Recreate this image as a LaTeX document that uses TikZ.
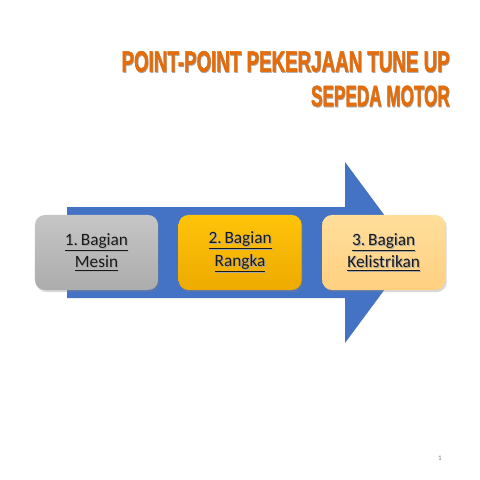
\documentclass[tikz,border=0pt]{standalone}
\usepackage{fontspec, graphicx}
\setmainfont{Carlito}
\newfontfamily\titlefont{Liberation Sans}[FakeBold=1.6]
\usetikzlibrary{positioning, shadows}
\definecolor{arrowblue}{RGB}{68,114,196}
\definecolor{titleorange}{RGB}{228,108,10}
\newcommand{\shtext}[1]{\rlap{\kern0.7pt\raisebox{-0.7pt}{\color{black!35}#1}}#1}
\tikzset{
    part/.style={rectangle, rounded corners=7pt, minimum width=3.075cm, minimum height=1.875cm, align=center, text=black!90, font=\fontsize{12.3}{16.3}\selectfont, drop shadow={opacity=0.3, shadow xshift=1pt, shadow yshift=-1.5pt}},
    title/.style={text=titleorange, inner sep=0pt, font=\titlefont\bfseries\fontsize{21}{24}\selectfont},
    bigarrow/.style={fill=arrowblue, draw=none}
}

\begin{document}
\begin{tikzpicture}[x=0.025cm, y=-0.025cm]

    \useasboundingbox (0,0) rectangle (480,480);

    % Arrow
    \fill [bigarrow] (67,207) -- (345,207) -- (345,162) -- (412,252.5) -- (345,343) -- (345,298) -- (67,298) -- cycle;

    % Nodes
    \node (mesin) [part, top color=gray!45, bottom color=gray!65] at (96.5,252.5) {\shtext{\underline{1.\,Bagian}}\\\shtext{\underline{Mesin}}};
    \node (rangka) [part, right=0.5cm of mesin, top color={rgb,255:red,255;green,196;blue,10}, bottom color={rgb,255:red,238;green,170;blue,0}] {\shtext{\underline{2.\,Bagian}}\\\shtext{\underline{Rangka}}};
    \node (kelistrikan) [part, right=0.5cm of rangka, top color={rgb,255:red,255;green,222;blue,155}, bottom color={rgb,255:red,255;green,208;blue,128}] {\shtext{\underline{3.\,Bagian}}\\\shtext{\underline{Kelistrikan}}};

    \node (title1) [title, anchor=east] at (450,62) {\scalebox{0.635}[1]{\shtext{POINT-POINT PEKERJAAN TUNE UP}}};
    \node (title2) [title, anchor=north east, yshift=-0.3cm] at (title1.south east) {\scalebox{0.58}[1]{\shtext{SEPEDA MOTOR}}};

    \node (page) [text=gray, font=\fontsize{5}{6}\selectfont] at (440,458) {1};

\end{tikzpicture}
\end{document}
